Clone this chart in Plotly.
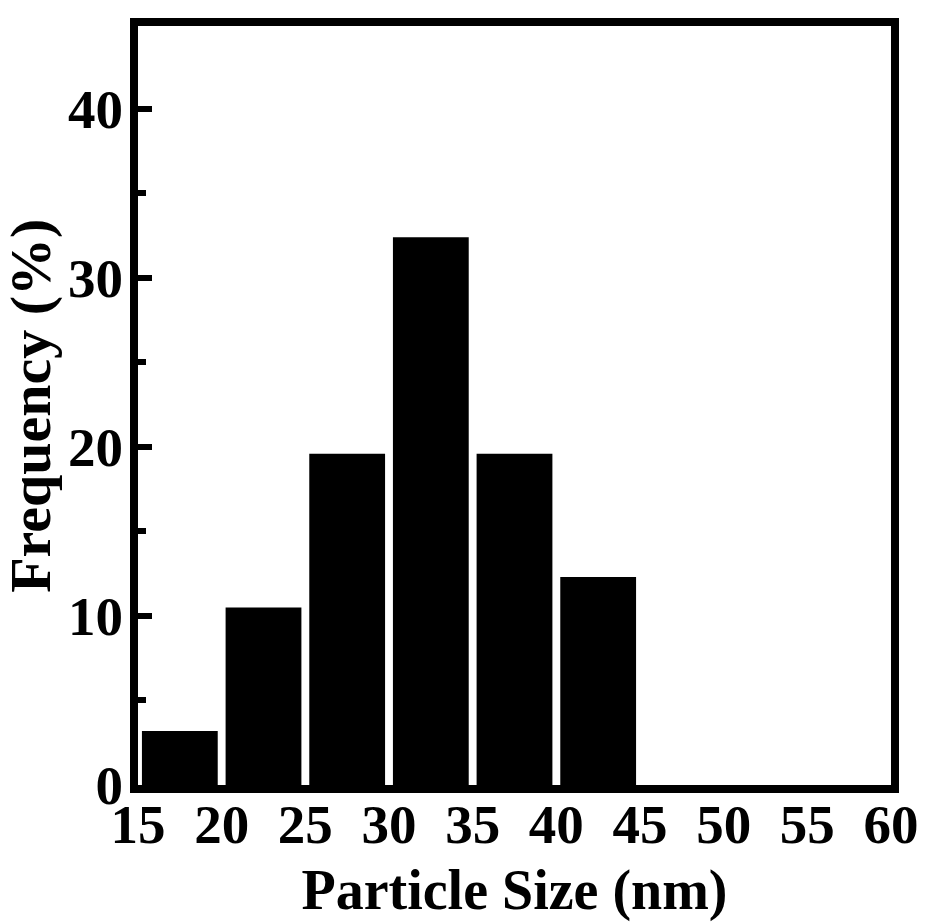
import plotly.graph_objects as go

bin_starts = [15, 20, 25, 30, 35, 40, 45, 50, 55]
frequency = [3.2, 10.5, 19.6, 32.4, 19.6, 12.3, 0, 0, 0]
bin_width = 5
bar_width = 4.53

x_ticks = [15, 20, 25, 30, 35, 40, 45, 50, 55, 60]
y_ticks = [0, 10, 20, 30, 40]

centers = [s + bin_width / 2 for s in bin_starts]

FONT = "Liberation Serif"

fig = go.Figure()
fig.add_trace(go.Bar(
    x=centers, y=frequency, width=bar_width,
    marker=dict(color="black", line=dict(width=0)),
    showlegend=False,
))

fig.update_layout(
    width=923, height=916,
    margin=dict(l=130, r=40, t=18, b=139, autoexpand=False),
    paper_bgcolor="white", plot_bgcolor="white",
    font=dict(family=FONT, color="black", size=55),
    xaxis=dict(
        range=[15, 60], tickvals=x_ticks, ticks="", showgrid=False, zeroline=False,
        showline=True, linewidth=8, linecolor="black", mirror=True,
        tickfont=dict(family=FONT, size=55, weight="bold"),
        ticklabelstandoff=-16,
        title=dict(text="<b>Particle Size (nm)</b>", font=dict(family=FONT, size=56), standoff=19),
    ),
    yaxis=dict(
        range=[0, 44.9], tickvals=y_ticks, ticks="inside", ticklen=14, tickwidth=6,
        tickcolor="black", showgrid=False, zeroline=False,
        showline=True, linewidth=8, linecolor="black", mirror=True,
        minor=dict(tickvals=[5, 15, 25, 35], ticks="inside", ticklen=8, tickwidth=6, tickcolor="black"),
        tickfont=dict(family=FONT, size=55, weight="bold"),
        ticklabelstandoff=-4,
    ),
    annotations=[dict(
        text="<b>Frequency (%)</b>", textangle=-90, showarrow=False,
        xref="paper", yref="paper", x=-0.143, y=0.5,
        xanchor="center", yanchor="middle",
        font=dict(family=FONT, size=58, color="black"),
    )],
)

fig.write_html("out.html")
